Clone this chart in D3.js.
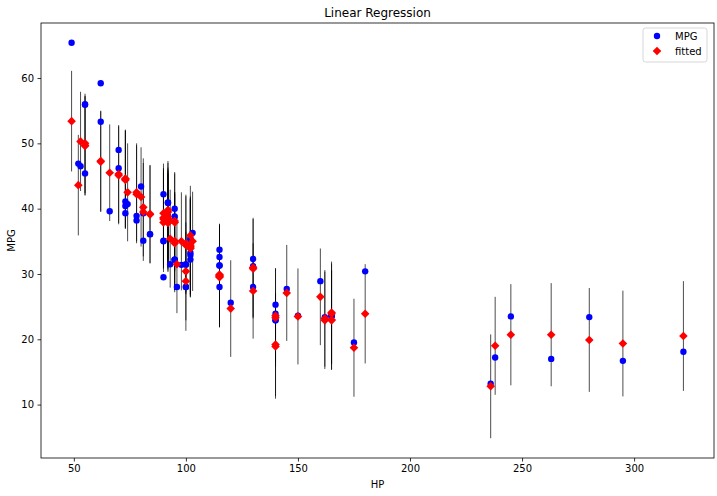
<!DOCTYPE html>
<html>
<head>
<meta charset="utf-8">
<script src="https://cdnjs.cloudflare.com/ajax/libs/d3/7.8.5/d3.min.js"></script>
<style>
  body { margin: 0; background: #fff; }
  svg { font-family: "DejaVu Sans", sans-serif; }
</style>
</head>
<body>
<svg id="chart" width="717" height="496"></svg>
<script>
// horsepower of each car
const hp = [49,55,55,70,53,70,55,62,62,80,
  73,92,92,73,66,73,78,92,78,90,
  92,74,95,81,95,92,92,92,52,103,
  84,84,102,102,81,90,90,102,102,130,
  95,95,102,95,93,100,100,98,130,115,
  115,115,115,180,160,130,96,115,100,100,
  145,120,140,140,150,165,165,165,165,245,
  280,162,162,140,140,175,322,238,263,295,
  236,90];

// observed MPG
const mpg = [65.4,56.0,55.9,49.0,46.5,46.2,45.4,59.2,53.3,43.4,
  41.1,40.9,40.9,40.4,39.6,39.3,38.9,38.8,38.2,42.2,
  40.9,40.7,40.0,39.3,38.8,38.4,38.4,38.4,46.9,36.3,
  36.1,36.1,35.4,35.3,35.1,35.1,35.0,33.2,32.9,32.3,
  32.2,32.2,32.2,32.2,31.5,31.5,31.4,31.4,31.2,33.7,
  32.6,31.3,31.3,30.4,28.9,28.0,28.0,28.0,28.0,28.0,
  27.7,25.6,25.3,23.9,23.6,23.6,23.6,23.6,23.6,23.5,
  23.4,23.4,23.1,22.9,22.9,19.5,18.1,17.2,17.0,16.7,
  13.2,29.5];

// fitted values from the regression
const fitted = [53.4,50.0,49.7,45.3,50.3,45.1,49.6,47.3,47.2,41.8,
  44.6,39.8,39.5,44.5,45.5,44.4,42.5,38.5,42.2,38.4,
  38.0,42.5,38.1,40.2,37.9,38.8,37.8,38.3,43.6,35.0,
  39.2,39.1,35.9,34.4,39.5,38.6,39.3,33.9,34.2,31.0,
  35.05,34.7,34.0,35.0,35.4,34.65,34.4,35.0,30.8,29.8,
  29.6,29.9,29.5,23.9,26.5,27.4,31.5,29.7,30.4,28.9,
  27.1,24.7,23.6,23.3,23.5,24.1,23.9,22.9,23.0,20.7,
  19.9,22.9,23.2,19.2,18.9,18.7,20.5,19.0,20.7,19.35,
  12.8,37.9];

// half width of the prediction interval around each fitted value
const piHalf = [7.7,7.6,7.6,7.5,7.6,7.5,7.6,7.7,7.7,7.6,
  7.5,7.5,7.5,7.5,7.4,7.5,7.5,7.5,7.5,7.6,
  7.5,7.5,7.5,7.5,7.5,7.5,7.5,7.5,7.7,7.6,
  7.5,7.5,7.6,7.5,7.5,7.6,7.6,7.5,7.5,7.6,
  7.5,7.5,7.5,7.5,7.5,7.5,7.5,7.5,7.6,7.8,
  7.7,7.8,7.7,7.6,7.4,7.3,7.5,7.8,7.5,7.6,
  7.35,7.4,7.3,7.5,7.35,7.8,7.7,7.6,7.6,7.75,
  7.95,7.45,7.4,7.9,8.0,7.5,8.4,7.5,7.9,8.1,
  7.95,7.6];

const xTicks = [50,100,150,200,250,300];
const yTicks = [10,20,30,40,50,60];

const rows = hp.map((h, i) => ({
  hp: h, mpg: mpg[i], fit: fitted[i],
  lo: fitted[i] - piHalf[i], hi: fitted[i] + piHalf[i]
}));

const svg = d3.select('#chart');
const plotL = 41, plotR = 714, plotT = 23, plotB = 458;

// matplotlib style 5% margins
const pad = ([a, b]) => { const m = (b - a) * 0.05; return [a - m, b + m]; };
const xDom = pad(d3.extent(hp));
const yDom = pad([d3.min(rows, d => Math.min(d.lo, d.mpg)), d3.max(rows, d => Math.max(d.hi, d.mpg))]);

const x = d3.scaleLinear().domain(xDom).range([plotL, plotR]);
const y = d3.scaleLinear().domain(yDom).range([plotB, plotT]);

// error bars
svg.append('g')
  .selectAll('line')
  .data(rows)
  .enter()
  .append('line')
  .attr('x1', d => x(d.hp)).attr('x2', d => x(d.hp))
  .attr('y1', d => y(d.lo)).attr('y2', d => y(d.hi))
  .attr('stroke', '#000')
  .attr('stroke-opacity', 0.7)
  .attr('stroke-width', 1);

// observed points
svg.append('g')
  .selectAll('circle')
  .data(rows)
  .enter()
  .append('circle')
  .attr('cx', d => x(d.hp))
  .attr('cy', d => y(d.mpg))
  .attr('r', 3.2)
  .attr('fill', '#0000ff');

const diamond = 'M0,-4.3L4.3,0L0,4.3L-4.3,0Z';

// fitted points
svg.append('g')
  .selectAll('path')
  .data(rows)
  .enter()
  .append('path')
  .attr('d', diamond)
  .attr('transform', d => `translate(${x(d.hp)},${y(d.fit)})`)
  .attr('fill', '#ff0000');

// axes
const xAxis = svg.append('g')
  .attr('transform', `translate(0,${plotB})`)
  .call(d3.axisBottom(x).tickValues(xTicks).tickSize(3.5).tickPadding(3.5));
const yAxis = svg.append('g')
  .attr('transform', `translate(${plotL},0)`)
  .call(d3.axisLeft(y).tickValues(yTicks).tickSize(3.5).tickPadding(3.5));

[xAxis, yAxis].forEach(a => {
  a.select('.domain').remove();
  a.selectAll('line').attr('stroke', '#000').attr('stroke-width', 0.8);
  a.selectAll('text').attr('font-size', 10).attr('fill', '#000')
    .style('font-family', '"DejaVu Sans", sans-serif');
});

// frame
svg.append('rect')
  .attr('x', plotL).attr('y', plotT)
  .attr('width', plotR - plotL).attr('height', plotB - plotT)
  .attr('fill', 'none')
  .attr('stroke', '#000')
  .attr('stroke-width', 0.8);

svg.append('text')
  .attr('x', (plotL + plotR) / 2).attr('y', 17)
  .attr('text-anchor', 'middle')
  .attr('font-size', 12)
  .text('Linear Regression');

svg.append('text')
  .attr('x', (plotL + plotR) / 2).attr('y', 488)
  .attr('text-anchor', 'middle')
  .attr('font-size', 10)
  .text('HP');

svg.append('text')
  .attr('transform', `translate(15,${(plotT + plotB) / 2}) rotate(-90)`)
  .attr('text-anchor', 'middle')
  .attr('font-size', 10)
  .text('MPG');

// legend
const legend = svg.append('g').attr('transform', 'translate(643,28)');
legend.append('rect')
  .attr('width', 64).attr('height', 34)
  .attr('rx', 2.5)
  .attr('fill', '#fff').attr('fill-opacity', 0.8)
  .attr('stroke', '#ccc').attr('stroke-width', 0.8);
legend.append('circle').attr('cx', 14).attr('cy', 8).attr('r', 3.2).attr('fill', '#0000ff');
legend.append('path').attr('d', diamond).attr('transform', 'translate(14,23)').attr('fill', '#ff0000');
legend.append('text').attr('x', 32).attr('y', 12).attr('font-size', 10).text('MPG');
legend.append('text').attr('x', 32).attr('y', 27).attr('font-size', 10).text('fitted');
</script>
</body>
</html>
